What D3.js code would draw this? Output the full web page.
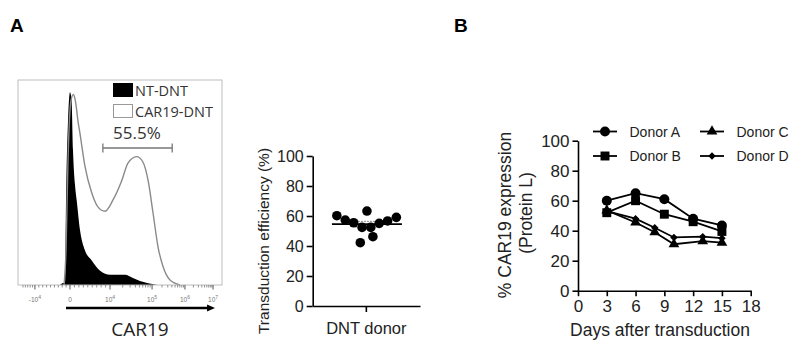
<!DOCTYPE html>
<html>
<head>
<meta charset="utf-8">
<script src="https://cdn.jsdelivr.net/npm/d3@7/dist/d3.min.js"></script>
<style>
  html, body { margin: 0; padding: 0; background: #fff; }
  svg { display: block; }
</style>
</head>
<body>
<svg id="chart" width="800" height="350"></svg>
<script>
// ---------------- DATA ----------------
// Panel A: flow histogram (channel units 0-1024, counts as % of max)
const ntChannels   = [211, 226, 236, 241, 251, 261, 269, 276, 286, 295, 311, 336, 370, 412, 462, 537, 577, 612, 648, 698];
const ntCounts     = [0, 1, 1, 41, 80, 94, 90, 66, 49, 41, 27, 17, 12, 7, 5, 5, 3.4, 2, 1, 0];
const carChannels  = [231, 241, 251, 266, 278, 283, 291, 301, 311, 336, 370, 402, 437, 477, 521, 552, 596, 627, 653, 678, 703, 728, 763, 813];
const carCounts    = [0, 17, 61, 90, 93, 92, 88, 80, 74, 58, 45, 38, 36, 41.5, 51, 59.5, 62.6, 60, 51, 35, 18.5, 9, 2.4, 0];
const histTickChannels = [85, 261, 462, 673, 838, 979];
const histTickBase     = ["-10", "0", "10", "10", "10", "10"];
const histTickExp      = ["4", "", "4", "5", "6", "7"];
const gateRange   = [426, 774];
const gateLabel   = "55.5%";
const histLegend  = ["NT-DNT", "CAR19-DNT"];

// Panel A right: transduction efficiency
const efficiency = [60.2, 57.3, 55.5, 42.2, 52.4, 63.3, 52.4, 46.2, 55.1, 56.7, 59.1];
const jitter     = [-0.86, -0.62, -0.38, -0.19, -0.14, 0, 0.11, 0.17, 0.35, 0.59, 0.84];
const effTicks   = [0, 20, 40, 60, 80, 100];
const effCategory = "DNT donor";

// Panel B: CAR19 expression over time
const donorNames = ["Donor A", "Donor B", "Donor C", "Donor D"];
const daysA = [3, 6, 9, 12, 15];
const daysB = [3, 6, 9, 12, 15];
const daysC = [3, 6, 8, 10, 13, 15];
const daysD = [3, 6, 8, 10, 13, 15];
const valuesA = [60, 65, 61, 48, 43.5];
const valuesB = [52, 60, 51, 46, 39.5];
const valuesC = [53.5, 45.5, 39, 31, 33, 32];
const valuesD = [53, 48, 42, 35.5, 36, 35];
const dayTicks = [0, 3, 6, 9, 12, 15, 18];
const pctTicks = [0, 20, 40, 60, 80, 100];

// ---------------- DRAW ----------------
const svg = d3.select("#chart");
const arial = "'Liberation Sans', Arial, sans-serif";
const sans = "'Open Sans', 'Noto Sans', sans-serif";

// panel letters
svg.append("text").attr("x", 10).attr("y", 32).text("A")
  .attr("font-family", arial).attr("font-weight", "bold").attr("font-size", 19);
svg.append("text").attr("x", 454).attr("y", 32).text("B")
  .attr("font-family", arial).attr("font-weight", "bold").attr("font-size", 19);

// ---- Histogram ----
const hx = d3.scaleLinear().domain([0, 1024]).range([18, 222]);
const hy = d3.scaleLinear().domain([0, 100]).range([285, 80]);
const gH = svg.append("g");

const ntData = ntChannels.map((c, i) => [c, ntCounts[i]]);
const carData = carChannels.map((c, i) => [c, carCounts[i]]);

gH.append("path").datum(ntData)
  .attr("d", d3.area().x(d => hx(d[0])).y0(hy(0)).y1(d => hy(d[1])).curve(d3.curveMonotoneX))
  .attr("fill", "#000");
gH.append("path").datum(carData)
  .attr("d", d3.line().x(d => hx(d[0])).y(d => hy(d[1])).curve(d3.curveMonotoneX))
  .attr("fill", "none").attr("stroke", "#8a8a8a").attr("stroke-width", 1.4);

// frame
gH.append("rect").attr("x", hx(0)).attr("y", hy(100))
  .attr("width", hx(1024) - hx(0)).attr("height", hy(0) - hy(100))
  .attr("fill", "none").attr("stroke", "#bdbdbd").attr("stroke-width", 1);

// ticks (major + minor)
const minor = [];
for (let i = 0; i < histTickChannels.length - 1; i++) {
  const a = histTickChannels[i], b = histTickChannels[i + 1];
  for (let k = 1; k < 9; k++) {
    const f = i >= 2 ? Math.log10(k + 1) : k / 9;
    minor.push(a + (b - a) * f);
  }
}
for (let k = 1; k < 6; k++) minor.push(histTickChannels[0] - k * 12);
gH.selectAll(".minor").data(minor).join("line")
  .attr("x1", d => hx(d)).attr("x2", d => hx(d))
  .attr("y1", hy(0)).attr("y2", hy(0) + 2.5)
  .attr("stroke", "#777").attr("stroke-width", 0.8);
gH.selectAll(".major").data(histTickChannels).join("line")
  .attr("x1", d => hx(d)).attr("x2", d => hx(d))
  .attr("y1", hy(0)).attr("y2", hy(0) + 4.5)
  .attr("stroke", "#555").attr("stroke-width", 1);
const tl = gH.selectAll(".hlab").data(histTickChannels).join("text")
  .attr("x", d => hx(d)).attr("y", 302)
  .attr("text-anchor", "middle").attr("font-family", arial)
  .attr("font-size", 6.5).attr("fill", "#777");
tl.append("tspan").text((d, i) => histTickBase[i]);
tl.append("tspan").attr("dy", -3).attr("font-size", 5).text((d, i) => histTickExp[i]);

// arrow
const arrowY = 308;
gH.append("line").attr("x1", hx(histTickChannels[1]) - 4).attr("x2", hx(histTickChannels[5]) - 4)
  .attr("y1", arrowY).attr("y2", arrowY).attr("stroke", "#000").attr("stroke-width", 2.5);
gH.append("path")
  .attr("d", `M${hx(histTickChannels[5]) + 2},${arrowY} L${hx(histTickChannels[5]) - 6},${arrowY - 3.5} L${hx(histTickChannels[5]) - 6},${arrowY + 3.5} Z`)
  .attr("fill", "#000");
gH.append("text").attr("x", 140).attr("y", 336).attr("text-anchor", "middle")
  .attr("font-family", sans).attr("font-size", 19).attr("fill", "#222").text("CAR19");

// legend
gH.append("rect").attr("x", 113).attr("y", 83).attr("width", 20).attr("height", 14).attr("fill", "#000");
gH.append("rect").attr("x", 113.5).attr("y", 104.5).attr("width", 19).attr("height", 13)
  .attr("fill", "#fff").attr("stroke", "#999").attr("stroke-width", 1);
gH.selectAll(".hleg").data(histLegend).join("text")
  .attr("x", 135).attr("y", (d, i) => 96 + i * 21)
  .attr("font-family", sans).attr("font-size", 14.5).attr("fill", "#333").text(d => d);

// gate
const gateY = 148;
gH.append("line").attr("x1", hx(gateRange[0])).attr("x2", hx(gateRange[1]))
  .attr("y1", gateY).attr("y2", gateY).attr("stroke", "#777").attr("stroke-width", 1.3);
gH.selectAll(".gtick").data(gateRange).join("line")
  .attr("x1", d => hx(d)).attr("x2", d => hx(d))
  .attr("y1", gateY - 4.5).attr("y2", gateY + 4.5).attr("stroke", "#777").attr("stroke-width", 1.3);
gH.append("text").attr("x", 113).attr("y", 139)
  .attr("font-family", sans).attr("font-size", 17).attr("fill", "#333").text(gateLabel);

// ---- Transduction efficiency dot plot ----
const ey = d3.scaleLinear().domain([0, 100]).range([306, 156]);
const ex = d3.scaleBand().domain([effCategory]).range([312.7, 420]);
const jx = d3.scaleLinear().domain([-1, 1]).range([-35, 35]);
const cx = ex(effCategory) + ex.bandwidth() / 2 + 0.6;
const gE = svg.append("g");

const yAxE = gE.append("g").attr("transform", "translate(312.7,0)")
  .call(d3.axisLeft(ey).tickValues(effTicks).tickSize(6).tickPadding(3).tickSizeOuter(0));
const xAxE = gE.append("g").attr("transform", "translate(0,306)")
  .call(d3.axisBottom(ex).tickSize(6).tickPadding(10).tickSizeOuter(0));
[yAxE, xAxE].forEach(a => {
  a.select(".domain").attr("stroke", "#000").attr("stroke-width", 1.6);
  a.selectAll(".tick line").attr("stroke", "#000").attr("stroke-width", 1.6);
  a.selectAll("text").attr("font-family", arial).attr("fill", "#222");
});
yAxE.selectAll("text").attr("font-size", 16);
xAxE.selectAll("text").attr("font-size", 16.5);
gE.append("text")
  .attr("transform", `translate(269,241) rotate(-90)`)
  .attr("text-anchor", "middle").attr("font-family", arial).attr("font-size", 15.5)
  .attr("fill", "#222").text("Transduction efficiency (%)");

const mean = d3.mean(efficiency);
const sem = d3.deviation(efficiency) / Math.sqrt(efficiency.length);
gE.append("line").attr("x1", cx + jx(-1)).attr("x2", cx + jx(1))
  .attr("y1", ey(mean)).attr("y2", ey(mean)).attr("stroke", "#000").attr("stroke-width", 1.6);
gE.selectAll(".sem").data([mean - sem, mean + sem]).join("line")
  .attr("x1", cx - 12).attr("x2", cx + 12)
  .attr("y1", d => ey(d)).attr("y2", d => ey(d))
  .attr("stroke", "#888").attr("stroke-width", 1).attr("stroke-dasharray", "2,1");
gE.selectAll(".dot").data(efficiency).join("circle")
  .attr("cx", (d, i) => cx + jx(jitter[i])).attr("cy", d => ey(d))
  .attr("r", 4.8).attr("fill", "#000");

// ---- Panel B line chart ----
const bx = d3.scaleLinear().domain([0, 18]).range([578, 750.7]);
const by = d3.scaleLinear().domain([0, 100]).range([290.7, 140.7]);
const gB = svg.append("g");

const yAxB = gB.append("g").attr("transform", "translate(578,0)")
  .call(d3.axisLeft(by).tickValues(pctTicks).tickSize(5.5).tickPadding(3).tickSizeOuter(0));
const xAxB = gB.append("g").attr("transform", "translate(0,290.7)")
  .call(d3.axisBottom(bx).tickValues(dayTicks).tickSize(5.5).tickPadding(4).tickSizeOuter(0));
[yAxB, xAxB].forEach(a => {
  a.select(".domain").attr("stroke", "#000").attr("stroke-width", 1.6);
  a.selectAll(".tick line").attr("stroke", "#000").attr("stroke-width", 1.6);
  a.selectAll("text").attr("font-family", arial).attr("font-size", 17).attr("fill", "#222");
});
gB.append("text").attr("transform", "translate(511,215) rotate(-90)")
  .attr("text-anchor", "middle").attr("font-family", arial).attr("font-size", 17.5)
  .attr("fill", "#222").text("% CAR19 expression");
gB.append("text").attr("transform", "translate(532,213) rotate(-90)")
  .attr("text-anchor", "middle").attr("font-family", arial).attr("font-size", 17.5)
  .attr("fill", "#222").text("(Protein L)");
gB.append("text").attr("x", 660).attr("y", 336).attr("text-anchor", "middle")
  .attr("font-family", arial).attr("font-size", 17.5).attr("fill", "#222").text("Days after transduction");

const series = [
  { name: donorNames[0], days: daysA, vals: valuesA, sym: d3.symbolCircle, size: 78 },
  { name: donorNames[1], days: daysB, vals: valuesB, sym: d3.symbolSquare, size: 80 },
  { name: donorNames[2], days: daysC, vals: valuesC, sym: d3.symbolTriangle, size: 50 },
  { name: donorNames[3], days: daysD, vals: valuesD, sym: d3.symbolDiamond2, size: 36 }
];
const line = d3.line().x(d => bx(d[0])).y(d => by(d[1]));
series.forEach(s => {
  const pts = s.days.map((d, i) => [d, s.vals[i]]);
  gB.append("path").datum(pts).attr("d", line)
    .attr("fill", "none").attr("stroke", "#000").attr("stroke-width", 1.8);
  gB.selectAll(null).data(pts).join("path")
    .attr("transform", d => `translate(${bx(d[0])},${by(d[1])})`)
    .attr("d", d3.symbol().type(s.sym).size(s.size)).attr("fill", "#000");
});

// legend
const legPos = [[605, 131.5], [605, 156], [712, 131.5], [712, 156]];
series.forEach((s, i) => {
  const [lx, ly] = legPos[i];
  gB.append("line").attr("x1", lx - 12).attr("x2", lx + 12).attr("y1", ly).attr("y2", ly)
    .attr("stroke", "#000").attr("stroke-width", 1.8);
  gB.append("path").attr("transform", `translate(${lx},${ly})`)
    .attr("d", d3.symbol().type(s.sym).size(s.size)).attr("fill", "#000");
  gB.append("text").attr("x", lx + 24.5).attr("y", ly + 5)
    .attr("font-family", arial).attr("font-size", 14).attr("fill", "#222").text(s.name);
});
</script>
</body>
</html>
